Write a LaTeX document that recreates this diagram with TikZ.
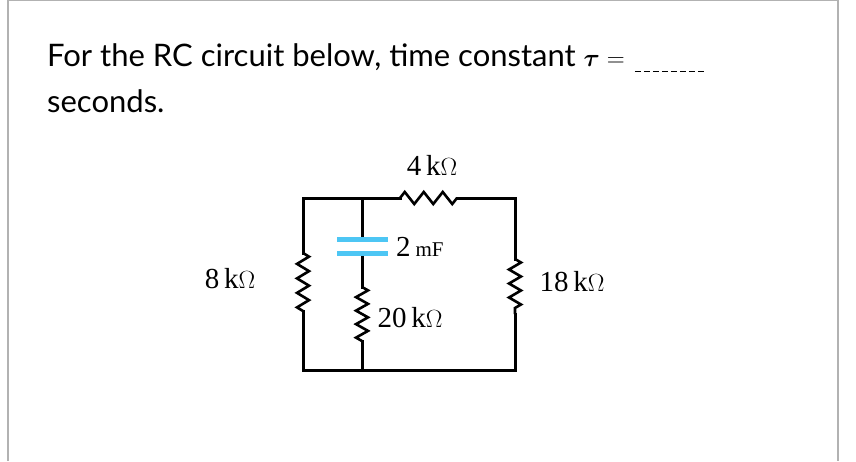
\documentclass[tikz,border=0pt]{standalone}
\usepackage{amsmath,bm}
\usepackage{fontspec}
\setmainfont{Lato}
\newfontfamily\tnr{Liberation Serif}
\usetikzlibrary{decorations.pathmorphing}
\begin{document}
\begin{tikzpicture}[x=1pt,y=-1pt,
  wire/.style={line width=3pt,line cap=rect},
  res/.style={line width=2.6pt,decorate,decoration={zigzag,amplitude=6pt,segment length=#1}},
  lab/.style={font=\tnr\fontsize{29}{32}\selectfont,inner sep=0pt}]
\useasboundingbox (0,0) rectangle (856,461);
\draw[gray!60,line width=1.2pt] (8,461) -- (8,0.5) -- (838,0.5) -- (838,461);
\node[anchor=base west,inner sep=0pt,font=\fontsize{31}{34}\selectfont] (q1) at (47,66) {For the RC circuit below, time constant $\bm{\tau} =$};
\draw[line width=1pt,dash pattern=on 6pt off 3pt] (q1.base east)++(10,5) coordinate (b1) -- ++(70,0) coordinate (b2);
\node[anchor=base west,inner sep=0pt,font=\fontsize{31}{34}\selectfont] (q2) at (47,112) {seconds.};
% nodes
\coordinate (TL) at (303,198); \coordinate (TM) at (362,198); \coordinate (TR) at (515,198);
\coordinate (BL) at (303,370); \coordinate (BM) at (362,370); \coordinate (BR) at (515,370);
\coordinate (r4a) at (400,198); \coordinate (r4b) at (457,198);
\coordinate (c1) at (362,239); \coordinate (c2) at (362,253);
\coordinate (r20a) at (362,287); \coordinate (r20b) at (362,341);
\coordinate (r8a) at (303,253); \coordinate (r8b) at (303,311);
\coordinate (r18a) at (515,259); \coordinate (r18b) at (515,314);
\draw[wire] (BL) -- (r8b); \draw[wire] (r8a) -- (TL) -- (TM) -- (r4a);
\draw[wire] (r4b) -- (TR) -- (r18a); \draw[wire] (r18b) -- (BR) -- (BL);
\draw[wire] (TM) -- (c1); \draw[wire] (c2) -- (r20a); \draw[wire] (r20b) -- (BM);
\draw[res=19pt] (r4a) -- (r4b);
\draw[res=14.5pt] (r8a) -- (r8b);
\draw[res=14pt] (r18a) -- (r18b);
\draw[res=13.5pt] (r20a) -- (r20b);
\draw[cyan!70,line width=5pt] (337,239) -- (388,239) (337,253) -- (388,253);
\node[lab] (l4) at (432,165) {4\,k$\Omega$};
\node[lab,anchor=west] (l2) at (396,247) {2\,{\fontsize{21}{22}\selectfont mF}};
\node[lab] (l8) at (230,279) {8\,k$\Omega$};
\node[lab] (l18) at (572,282) {18\,k$\Omega$};
\node[lab] (l20) at (410,318) {20\,k$\Omega$};
\end{tikzpicture}
\end{document}
